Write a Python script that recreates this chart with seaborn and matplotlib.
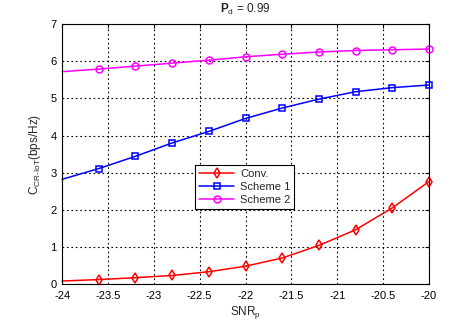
import numpy as np
import pandas as pd
import matplotlib
matplotlib.use("Agg")
import matplotlib.pyplot as plt
import seaborn as sns

# SNR_p sweep (dB)
snr_p = [-24.0, -23.6, -23.2, -22.8, -22.4, -22.0, -21.6, -21.2, -20.8, -20.4, -20.0]

# Achievable capacity C_CR-IoT (bps/Hz) at P_d = 0.99
conv     = [0.08, 0.12, 0.17, 0.23, 0.33, 0.48, 0.70, 1.04, 1.46, 2.05, 2.76]
scheme_1 = [2.82, 3.11, 3.44, 3.80, 4.11, 4.46, 4.74, 4.98, 5.18, 5.29, 5.36]
scheme_2 = [5.72, 5.79, 5.87, 5.95, 6.03, 6.12, 6.19, 6.25, 6.29, 6.31, 6.33]

series_names = ["Conv.", "Scheme 1", "Scheme 2"]
x_ticks = [-24, -23.5, -23, -22.5, -22, -21.5, -21, -20.5, -20]
x_tick_labels = ["-24", "-23.5", "-23", "-22.5", "-22", "-21.5", "-21", "-20.5", "-20"]
y_ticks = [0, 1, 2, 3, 4, 5, 6, 7]

df = pd.DataFrame({
    "snr": snr_p * 3,
    "cap": conv + scheme_1 + scheme_2,
    "scheme": sum([[n] * len(snr_p) for n in series_names], []),
})

sns.set_theme(style="white")
plt.rcParams["font.family"] = ["Liberation Sans", "DejaVu Sans"]
plt.rcParams["mathtext.fontset"] = "custom"
plt.rcParams["mathtext.rm"] = "Liberation Sans"
plt.rcParams["mathtext.it"] = "Liberation Sans"
plt.rcParams["mathtext.bf"] = "Liberation Sans:bold"

fig = plt.figure(figsize=(4.74, 3.22), dpi=100)
ax = fig.add_axes([0.131, 0.118, 0.774, 0.807])

styles = {
    "Conv.":    dict(color="#ff0000", marker="d", ms=5.5),
    "Scheme 1": dict(color="#0000ff", marker="s", ms=4.5),
    "Scheme 2": dict(color="#ff00ff", marker="o", ms=5),
}
for name in series_names:
    st = styles[name]
    sns.lineplot(data=df[df["scheme"] == name], x="snr", y="cap", ax=ax,
                 color=st["color"], marker=st["marker"], markersize=st["ms"],
                 markerfacecolor="none", markeredgecolor=st["color"],
                 markeredgewidth=1.1, linewidth=1.1, markevery=slice(1, None),
                 label=name, clip_on=False)

ax.set_xlim(-24, -20)
ax.set_ylim(0, 7)
ax.set_xticks(x_ticks)
ax.set_xticklabels(x_tick_labels)
ax.set_yticks(y_ticks)
ax.tick_params(direction="in", length=3, width=0.8, labelsize=8, colors="black",
               top=True, right=True)
ax.tick_params(axis="x", pad=5)
ax.tick_params(axis="y", pad=4)
ax.grid(True, linestyle=(0, (1.5, 2.5)), color="black", linewidth=0.8)
for sp in ax.spines.values():
    sp.set_color("black")
    sp.set_linewidth(0.8)

ax.set_xlabel("SNR$_\\mathrm{p}$", fontsize=8.5, labelpad=2)
ax.set_ylabel("C$_{\\mathrm{CR\\text{-}IoT}}$(bps/Hz)", fontsize=8.5, labelpad=5)
ax.set_title("$\\mathbf{P}_\\mathrm{d}$ = 0.99", fontsize=8.5, pad=8)

leg = ax.legend(loc="lower left", bbox_to_anchor=(0.362, 0.288), fontsize=8,
                frameon=True, fancybox=False, edgecolor="black", framealpha=1,
                borderpad=0.35, handlelength=3.2, labelspacing=0.3,
                handletextpad=0.5, borderaxespad=0)
leg.get_frame().set_linewidth(0.8)

fig.savefig("out.png", dpi=100)
